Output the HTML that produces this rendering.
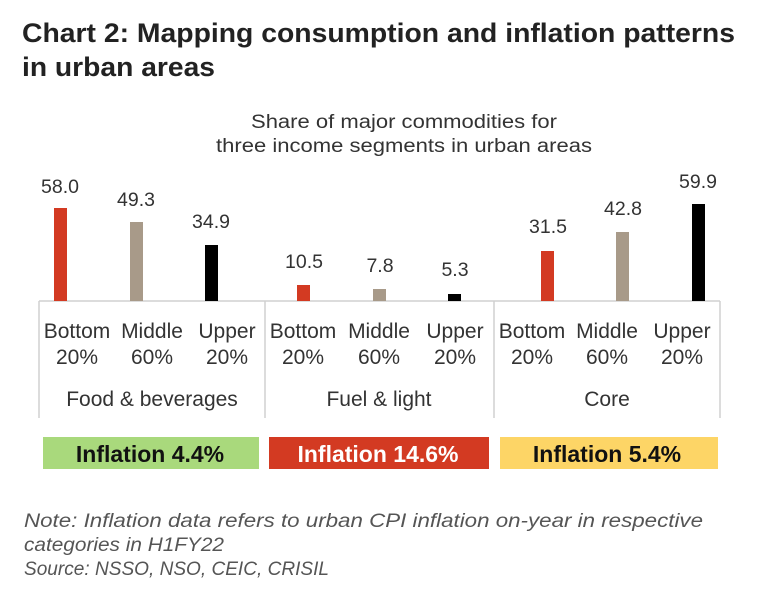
<!DOCTYPE html>
<html><head><style>
body{margin:0;width:759px;height:606px;background:#fff;overflow:hidden;font-family:"Liberation Sans",sans-serif;}
</style></head><body>
<svg width="759" height="606" xmlns="http://www.w3.org/2000/svg" font-family="Liberation Sans, sans-serif">
<text x="22" y="42" font-size="27" font-weight="bold" fill="#222" textLength="713" lengthAdjust="spacingAndGlyphs">Chart 2: Mapping consumption and inflation patterns</text>
<text x="22" y="76" font-size="27" font-weight="bold" fill="#222" textLength="193" lengthAdjust="spacingAndGlyphs">in urban areas</text>
<text x="251" y="128" font-size="19" fill="#333" textLength="306" lengthAdjust="spacingAndGlyphs">Share of major commodities for</text>
<text x="216" y="152" font-size="19" fill="#333" textLength="376" lengthAdjust="spacingAndGlyphs">three income segments in urban areas</text>
<g stroke="#d0d0d0" stroke-width="1.5">
<line x1="39" y1="301" x2="720" y2="301"/>
<line x1="39" y1="301" x2="39" y2="418"/>
<line x1="265" y1="301" x2="265" y2="418"/>
<line x1="494" y1="301" x2="494" y2="418"/>
<line x1="720" y1="301" x2="720" y2="418"/>
</g>
<rect x="54" y="208" width="13" height="93" fill="#d33a22"/>
<rect x="130" y="222" width="13" height="79" fill="#a89a89"/>
<rect x="205" y="245" width="13" height="56" fill="#000"/>
<rect x="297" y="285" width="13" height="16" fill="#d33a22"/>
<rect x="373" y="289" width="13" height="12" fill="#a89a89"/>
<rect x="448" y="294" width="13" height="7" fill="#000"/>
<rect x="541" y="251" width="13" height="50" fill="#d33a22"/>
<rect x="616" y="232" width="13" height="69" fill="#a89a89"/>
<rect x="692" y="204" width="13" height="97" fill="#000"/>
<g font-size="19.5" fill="#333" text-anchor="middle">
<text x="60" y="193">58.0</text><text x="136" y="206">49.3</text><text x="211" y="228">34.9</text>
<text x="304" y="268">10.5</text><text x="380" y="272">7.8</text><text x="455" y="276">5.3</text>
<text x="548" y="233">31.5</text><text x="623" y="215">42.8</text><text x="698" y="188">59.9</text>
</g>
<g font-size="21" fill="#333" text-anchor="middle">
<text x="77" y="338">Bottom</text><text x="77" y="364">20%</text>
<text x="152" y="338">Middle</text><text x="152" y="364">60%</text>
<text x="227" y="338">Upper</text><text x="227" y="364">20%</text>
<text x="303" y="338">Bottom</text><text x="303" y="364">20%</text>
<text x="379" y="338">Middle</text><text x="379" y="364">60%</text>
<text x="455" y="338">Upper</text><text x="455" y="364">20%</text>
<text x="532" y="338">Bottom</text><text x="532" y="364">20%</text>
<text x="607" y="338">Middle</text><text x="607" y="364">60%</text>
<text x="682" y="338">Upper</text><text x="682" y="364">20%</text>
<text x="152" y="406">Food &amp; beverages</text>
<text x="379" y="406">Fuel &amp; light</text>
<text x="607" y="406">Core</text>
</g>
<rect x="43" y="437" width="216" height="32" fill="#a9d97c"/>
<rect x="269" y="437" width="220" height="32" fill="#d33a22"/>
<rect x="500" y="437" width="218" height="32" fill="#fdd566"/>
<g font-size="23" font-weight="bold" text-anchor="middle">
<text x="150" y="462" fill="#111">Inflation 4.4%</text>
<text x="378" y="462" fill="#fff">Inflation 14.6%</text>
<text x="607" y="462" fill="#111">Inflation 5.4%</text>
</g>
<g font-size="19" font-style="italic" fill="#555">
<text x="24" y="527" textLength="679" lengthAdjust="spacingAndGlyphs">Note: Inflation data refers to urban CPI inflation on-year in respective</text>
<text x="24" y="551" textLength="200" lengthAdjust="spacingAndGlyphs">categories in H1FY22</text>
<text x="24" y="575" textLength="305" lengthAdjust="spacingAndGlyphs">Source: NSSO, NSO, CEIC, CRISIL</text>
</g>
</svg>
</body></html>
